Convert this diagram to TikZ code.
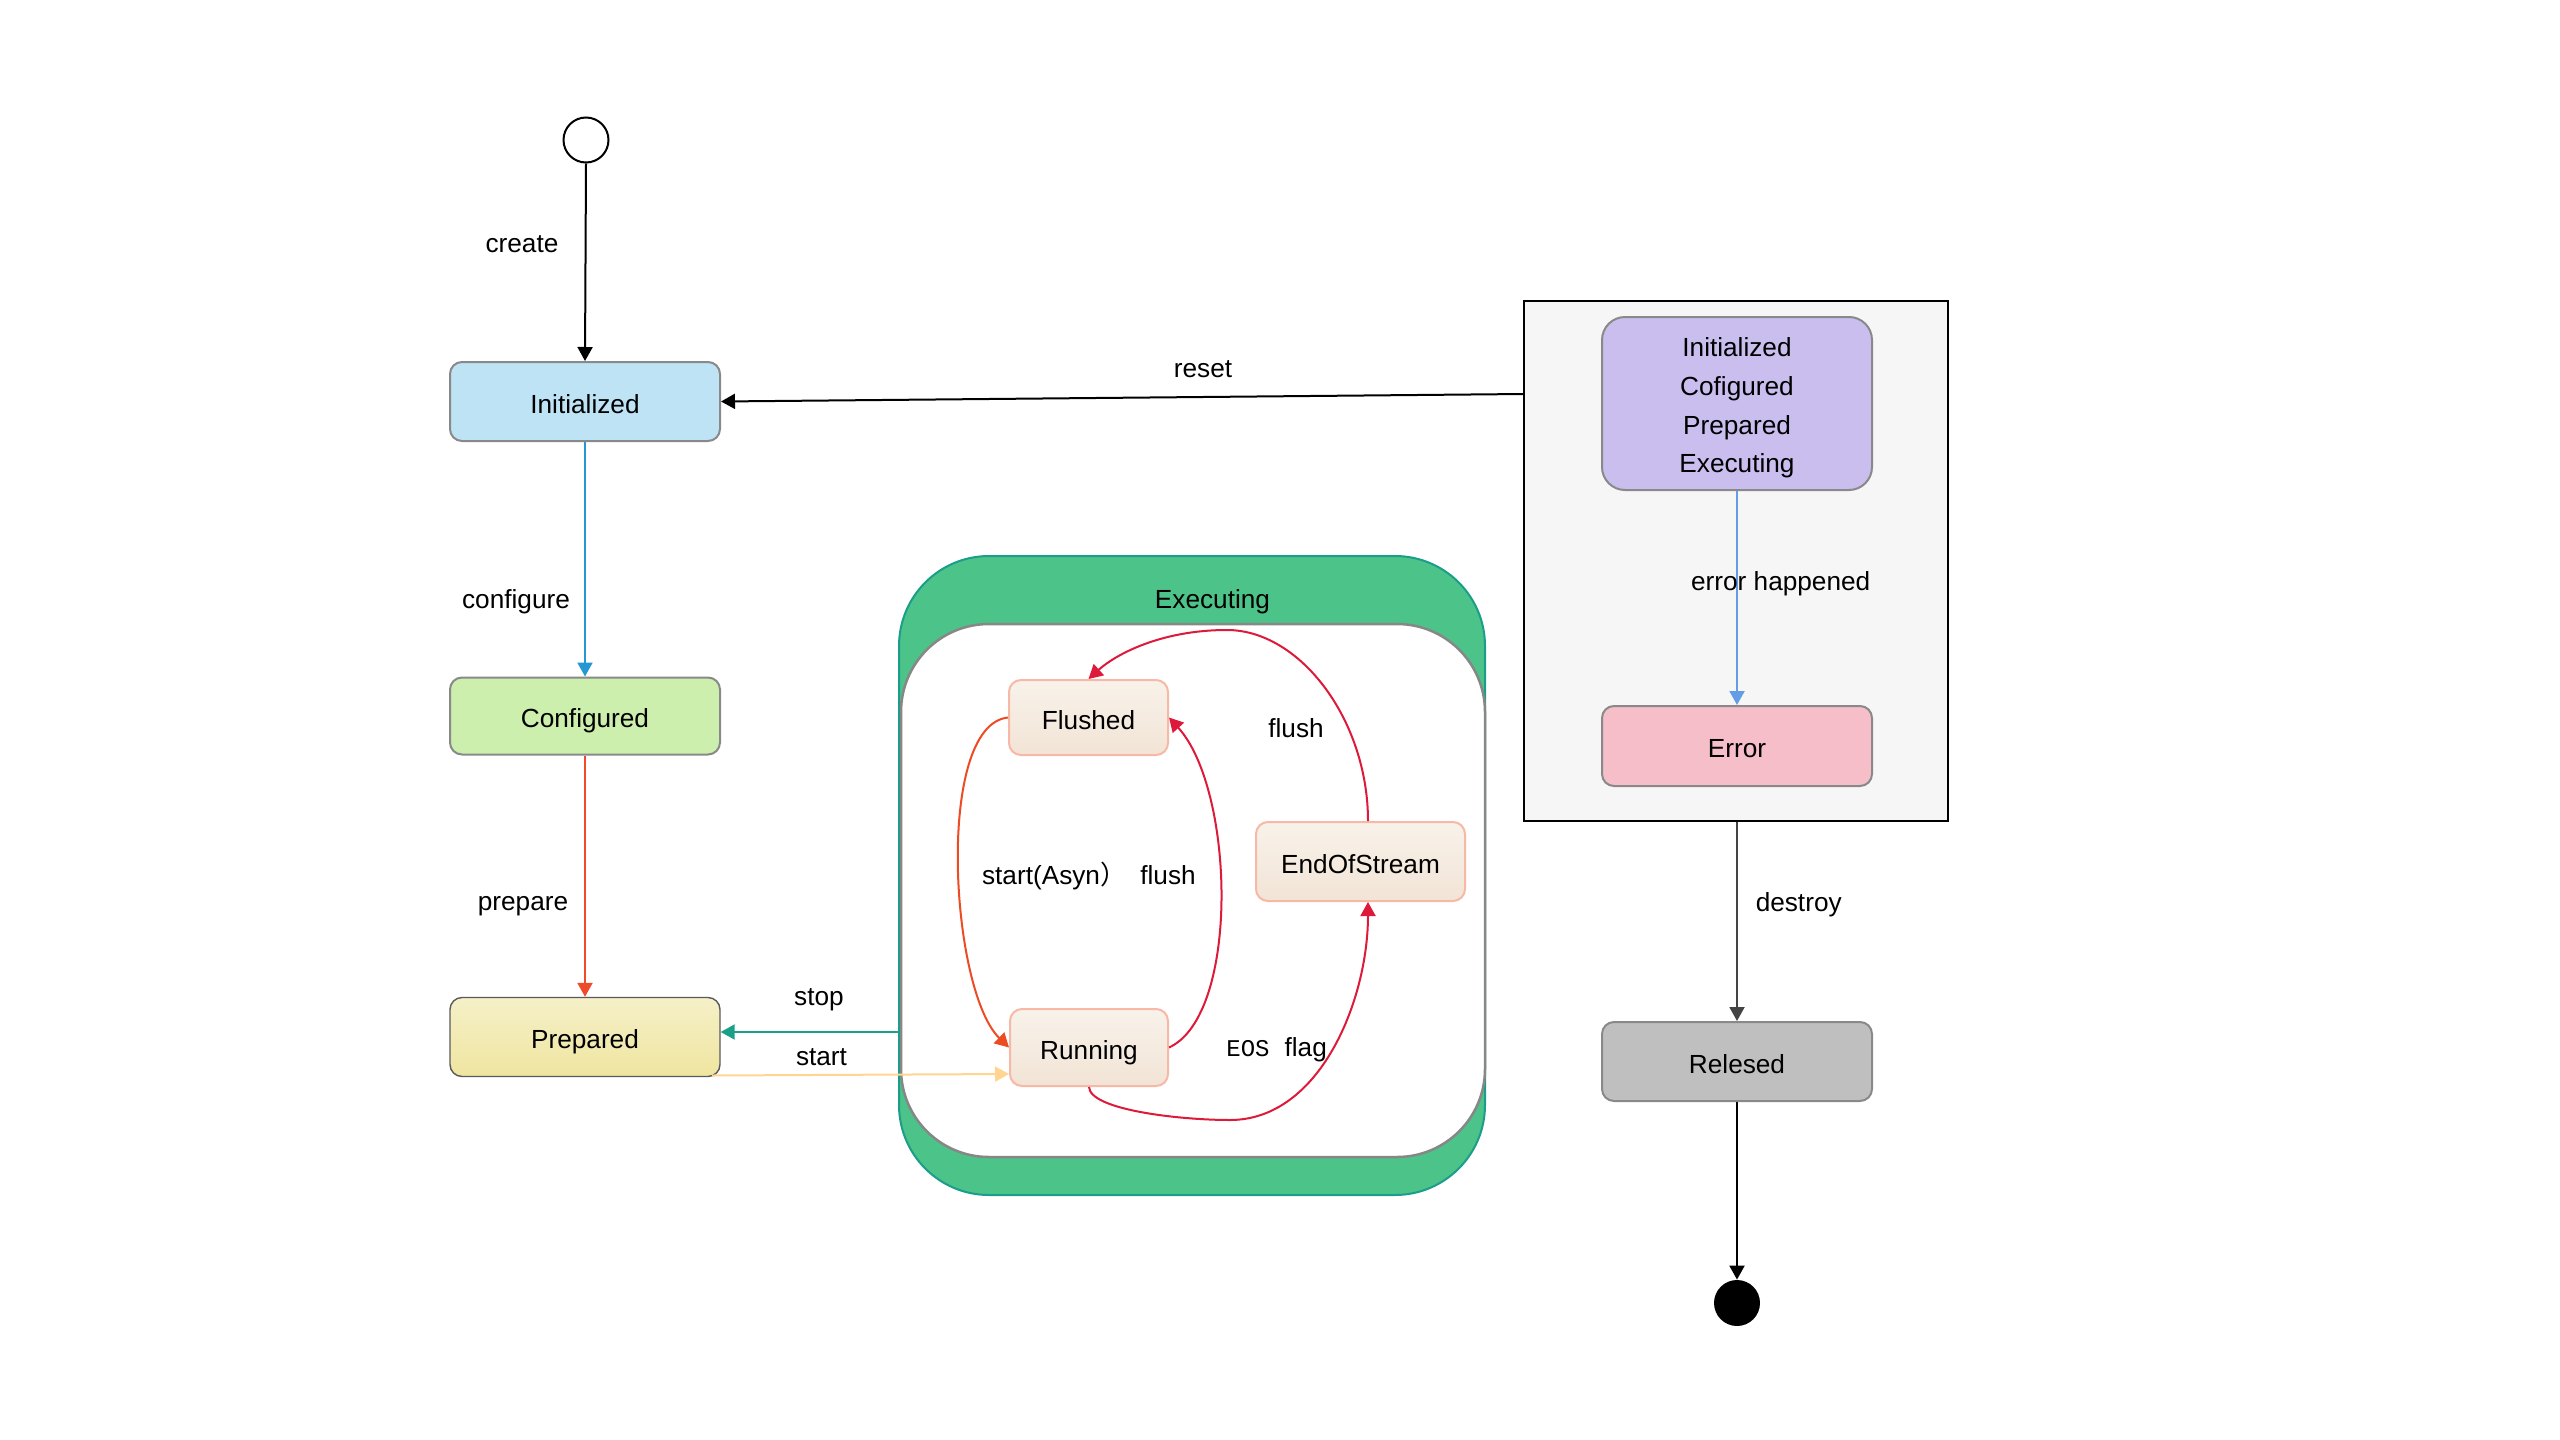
\documentclass[tikz,border=0pt]{standalone}
\usepackage{fontspec}
\setmainfont{Liberation Sans}
\newfontfamily\cjkfont{Noto Sans CJK SC}
\newfontfamily\eosfont{Liberation Mono}
\usetikzlibrary{arrows.meta,calc}
\definecolor{boxgray}{HTML}{898989}
\definecolor{initfill}{HTML}{BEE3F5}
\definecolor{conffill}{HTML}{CDEFAD}
\definecolor{preptop}{HTML}{F5F0C8}
\definecolor{prepbot}{HTML}{EFE5A0}
\definecolor{prepborder}{HTML}{5A5A5A}
\definecolor{purpfill}{HTML}{C9BEEE}
\definecolor{errfill}{HTML}{F5BEC8}
\definecolor{relfill}{HTML}{BFBFBF}
\definecolor{contfill}{HTML}{F6F6F6}
\definecolor{greenfill}{HTML}{4CC388}
\definecolor{greenborder}{HTML}{1A9E8A}
\definecolor{innergray}{HTML}{878787}
\definecolor{subtop}{HTML}{F8F2EA}
\definecolor{subbot}{HTML}{F2E4D6}
\definecolor{subborder}{HTML}{F8B8A6}
\definecolor{crimsonred}{HTML}{DD1A3A}
\definecolor{asynorange}{HTML}{EC4B24}
\definecolor{prepred}{HTML}{EE4B2B}
\definecolor{cfgblue}{HTML}{2597D3}
\definecolor{errblue}{HTML}{659CE6}
\definecolor{stopteal}{HTML}{19A087}
\definecolor{startorange}{HTML}{FFD591}
\definecolor{darkline}{HTML}{444444}
\begin{document}
\begin{tikzpicture}[x=0.5pt,y=-0.5pt,
  every node/.style={font=\fontsize{13.1}{19.4}\selectfont},
  statebox/.style={draw=boxgray, line width=1pt, rounded corners=6pt,
    minimum width=135pt, minimum height=39.5pt, inner sep=0pt,
    text height=14.67pt, text depth=3.14pt},
  substate/.style={draw=subborder, line width=1pt, rounded corners=6pt,
    top color=subtop, bottom color=subbot, inner sep=0pt,
    text height=14.67pt, text depth=3.14pt},
  lbl/.style={anchor=base, inner sep=0pt},
  conn/.style={line width=1pt, -{Triangle[length=7pt,width=7.5pt]}}
]
\useasboundingbox (0,0) rectangle (2560,1440);

% ---------- containers ----------
\node[draw=black, line width=1.4pt, fill=contfill, minimum width=212pt,
  minimum height=260pt, inner sep=0pt] (errcont) at (1736,561) {};
\node[draw=greenborder, line width=1pt, fill=greenfill, rounded corners=45pt,
  minimum width=293pt, minimum height=319.5pt, inner sep=0pt] (exec) at (1192,875.5) {};
\node[draw=innergray, line width=1.25pt, fill=white, rounded corners=44pt,
  minimum width=292pt, minimum height=266.5pt, inner sep=0pt] (execin) at (1193,890.5) {};
\node[lbl] (exectitle) at (1212.5,608.3) {Executing};

% ---------- left column ----------
\node[circle, draw=black, line width=1pt, fill=white, minimum size=22.5pt, inner sep=0pt] (start) at (586,140) {};
\node[statebox, fill=initfill] (init) at (585,401.5) {Initialized};
\node[statebox, fill=conffill, minimum height=38.5pt] (conf) at (585,716) {Configured};
\node[statebox, draw=prepborder, line width=0.7pt, top color=preptop, bottom color=prepbot] (prep) at (585,1037) {Prepared};

% ---------- right column ----------
\node[statebox, fill=purpfill, minimum height=86.5pt, rounded corners=11.5pt] (all) at (1737,403.5) {};
\node[align=center, inner sep=0pt] (alltext) at (1737,408) {Initialized\\Cofigured\\Prepared\\Executing};
\node[statebox, fill=errfill, minimum height=40pt] (err) at (1737,746) {Error};
\node[statebox, fill=relfill] (rel) at (1737,1061.5) {Relesed};
\node[circle, fill=black, minimum size=23pt, inner sep=0pt] (end) at (1737,1303) {};

% ---------- sub states ----------
\node[substate, minimum width=79.5pt, minimum height=37.5pt] (flu) at (1088.5,717.5) {Flushed};
\node[substate, minimum width=79pt, minimum height=38.5pt] (run) at (1089,1047.5) {Running};
\node[substate, minimum width=104.5pt, minimum height=39.5pt] (eos) at (1360.5,861.5) {EndOfStream};

% ---------- connectors ----------
\draw[conn] (start.south) -- (init.north);
\node[lbl] (createlbl) at (522,252) {create};

\draw[conn, cfgblue] (init.south) -- (conf.north);
\node[lbl] (configurelbl) at (516,608) {configure};

\draw[conn, prepred] (conf.south) -- (prep.north);
\node[lbl] (preparelbl) at (523,910.7) {prepare};

\coordinate (resetsrc) at (1524,394);
\draw[conn] (resetsrc) -- (init.east);
\node[lbl] (resetlbl) at (1203,377.7) {reset};

\coordinate (stopsrc) at (899,1032);
\draw[conn, stopteal] (stopsrc) -- (stopsrc -| prep.east);
\node[lbl] (stoplbl) at (819,1005) {stop};

\coordinate (startsrc) at (712,1075.5);
\draw[conn, startorange] (startsrc) -- ($(run.south west)+(0,-13)$);
\node[lbl] (startlbl) at (821.5,1065) {start};

\draw[conn, errblue] (all.south) -- (err.north);
\node[lbl] (errlbl) at (1780.7,590.7) {error happened};

\draw[conn, darkline] (errcont.south -| rel.north) -- (rel.north);
\node[lbl] (destroylbl) at (1798.7,911) {destroy};

\draw[conn] (rel.south) -- (end.north);

% inner transitions
\draw[conn, asynorange] (flu.west) .. controls (935,725) and (950,990) .. (run.west);
\node[anchor=base west, inner sep=0pt] (asynlbl) at (981.7,884) {start(Asyn{\cjkfont ）}};

\draw[conn, crimsonred] (run.east) .. controls (1240,1015) and (1235,790) .. (flu.east);
\node[lbl] (flushmidlbl) at (1168,884) {flush};

\draw[conn, crimsonred] ($(eos.north)+(7.5,0)$) .. controls (1368,720) and (1300,630) .. (1227,630)
  .. controls (1160,630) and (1115,655) .. (flu.north);
\node[lbl] (flushtoplbl) at (1296,737.7) {flush};

\draw[conn, crimsonred] (run.south) .. controls (1090,1110) and (1180,1120) .. (1230,1120)
  .. controls (1320,1120) and (1368,1000) .. ($(eos.south)+(7.5,0)$);
\node[anchor=base west, inner sep=0pt] (eoslbl) at (1226,1056) {{\eosfont\fontsize{12}{14}\selectfont EOS}\hspace{7.5pt}flag};
\end{tikzpicture}
\end{document}
